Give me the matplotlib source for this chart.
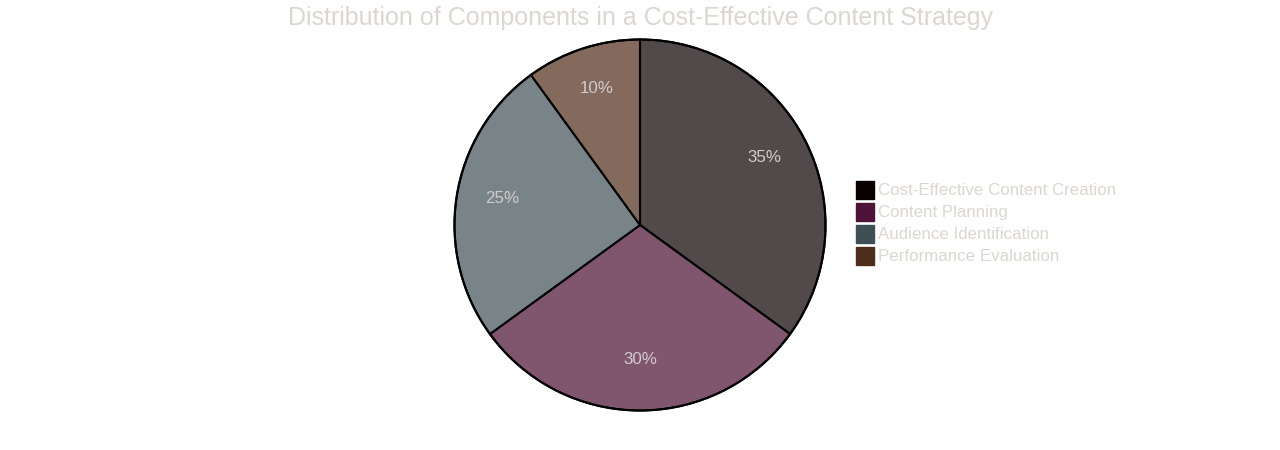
import matplotlib
matplotlib.use("Agg")
import matplotlib.pyplot as plt
from matplotlib.patches import Rectangle

title = "Distribution of Components in a Cost-Effective Content Strategy"
categories = ["Cost-Effective Content Creation", "Content Planning",
              "Audience Identification", "Performance Evaluation"]
values = [35, 30, 25, 10]
legend_colors = ["#0b0000", "#4f1238", "#3e4f55", "#4e2d1c"]
slice_colors = ["#524a4a", "#80566f", "#788487", "#846a5d"]
text_color = "#dcd6d0"
pct_color = "#d0cccc"

plt.rcParams['font.family'] = ['Liberation Sans', 'DejaVu Sans']

W, H = 1280, 450
fig = plt.figure(figsize=(W / 100, H / 100), dpi=100)
fig.patch.set_facecolor("white")
ax = fig.add_axes([0, 0, 1, 1])

cx, cy, r = 640, 225, 185.5
# y axis is inverted (pixel coordinates), so start at -90 and go
# counter-clockwise in data space = clockwise on screen from the top.
wedges, texts, autotexts = ax.pie(
    values, colors=slice_colors, startangle=-90, counterclock=True,
    center=(cx, cy), radius=r, autopct="%1.0f%%", pctdistance=0.75,
    wedgeprops=dict(edgecolor="black", linewidth=1.5),
    textprops=dict(color=pct_color, fontsize=12.2), frame=True)
for t in autotexts:
    x, y = t.get_position()
    t.set_position((x, y - 4.5))
ax.set_xlim(0, W)
ax.set_ylim(H, 0)
ax.set_aspect("equal")
ax.axis("off")

circle = plt.Circle((cx, cy), r, fill=False, edgecolor="black", linewidth=1.5)
ax.add_patch(circle)

ax.text(W / 2, 17.5, title, ha="center", va="center", fontsize=18,
        color=text_color)

lx, ly0, step, sw = 856, 181, 22, 18
for i, (lab, col) in enumerate(zip(categories, legend_colors)):
    y = ly0 + i * step
    ax.add_patch(Rectangle((lx, y), sw, sw, facecolor=col, edgecolor=col,
                           linewidth=1))
    ax.text(lx + sw + 4, y + sw / 2 + 0.5, lab, ha="left", va="center",
            fontsize=12.2, color=text_color)

fig.savefig("out.png", dpi=100, facecolor="white")
